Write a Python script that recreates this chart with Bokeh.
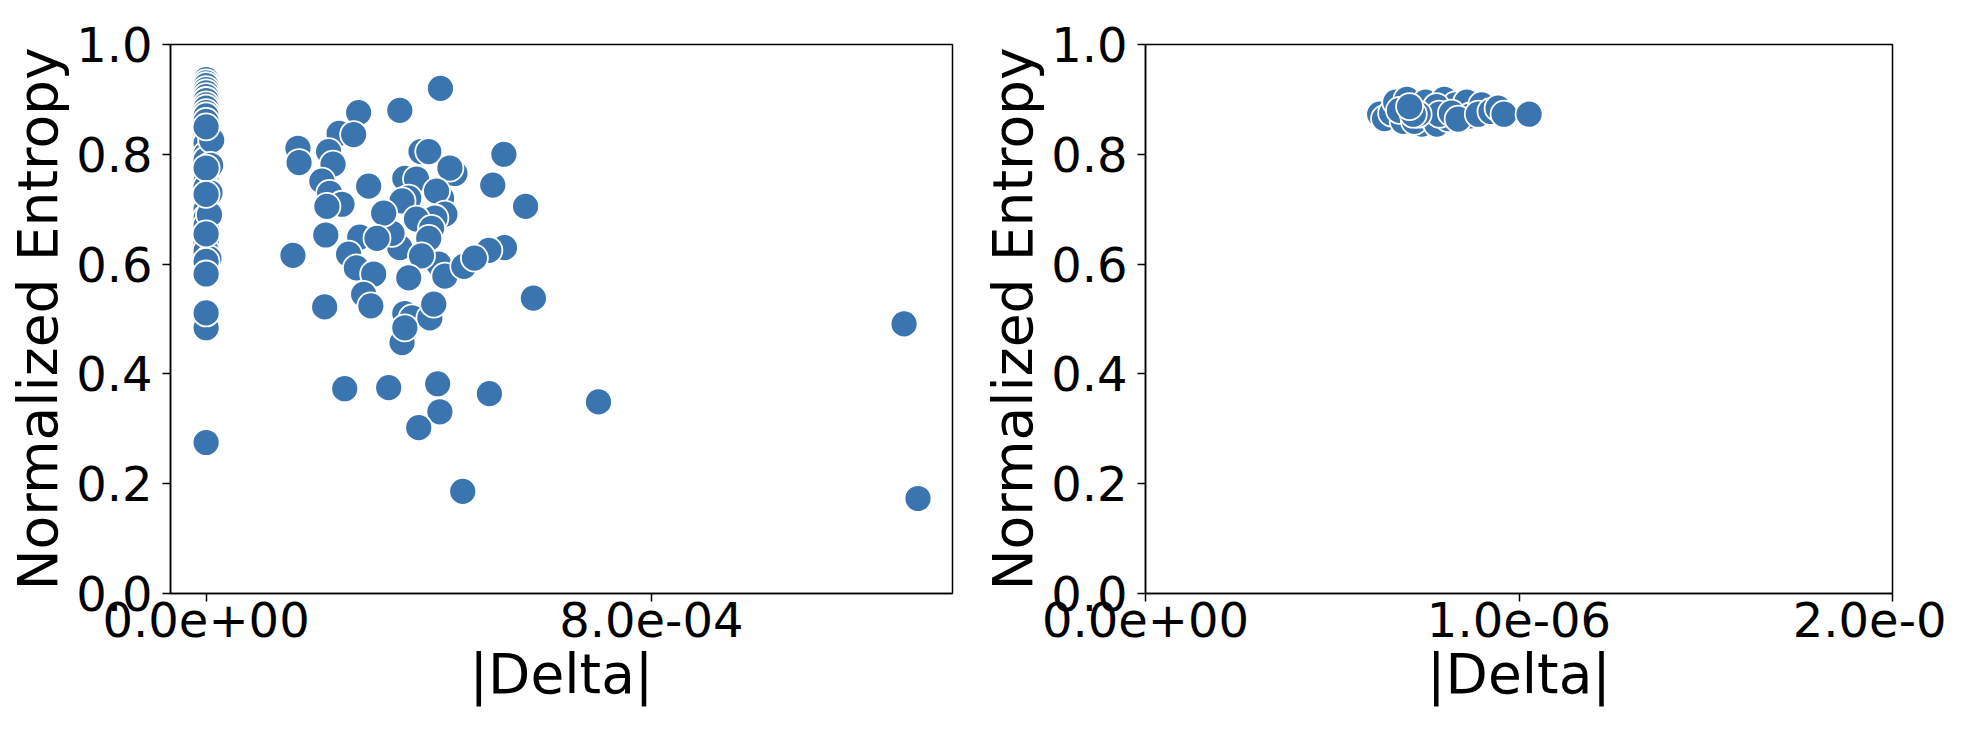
from bokeh.plotting import figure
from bokeh.layouts import row
from bokeh.models import Range1d, FixedTicker, PrintfTickFormatter
from bokeh.embed import file_html
from bokeh.resources import INLINE

# ---- data: left panel (|Delta| vs Normalized Entropy) ----
zero_x = [0, 0, 0, 0, 0, 0, 0, 0, 0, 0, 0, 0, 0, 0, 0, 0, 0, 0, 0, 0,
          0, 0, 0, 0, 0, 1.0e-5, 8e-6, 7e-6, 6e-6, 5e-6,
          0, 0, 0, 0, 0, 0, 0, 0, 0]
zero_y = [0.936, 0.930, 0.925, 0.918, 0.912, 0.905, 0.898, 0.890, 0.884, 0.876,
          0.870, 0.860, 0.840, 0.820, 0.800, 0.790, 0.760, 0.750, 0.740, 0.710,
          0.700, 0.684, 0.670, 0.640, 0.624, 0.826, 0.780, 0.730, 0.690, 0.610,
          0.605, 0.484, 0.275, 0.850, 0.775, 0.727, 0.655, 0.582, 0.511]

main_x = [4.21e-4, 2.74e-4, 3.48e-4, 2.39e-4, 2.65e-4, 1.65e-4, 1.67e-4, 2.20e-4, 2.28e-4, 3.86e-4,
          4.00e-4, 4.47e-4, 4.38e-4, 5.35e-4, 5.15e-4, 5.74e-4, 2.08e-4, 2.22e-4, 2.44e-4, 2.17e-4,
          2.92e-4, 3.57e-4, 3.78e-4, 3.64e-4, 4.23e-4, 4.14e-4, 3.52e-4, 4.29e-4, 4.11e-4, 3.78e-4,
          4.05e-4, 4.00e-4, 3.48e-4, 3.34e-4, 3.19e-4, 2.15e-4, 2.76e-4, 3.07e-4, 2.56e-4, 2.70e-4,
          3.01e-4, 2.83e-4, 2.96e-4, 2.13e-4, 1.56e-4, 4.18e-4, 3.87e-4, 3.64e-4, 4.29e-4, 4.63e-4,
          5.36e-4, 5.08e-4, 4.82e-4, 5.88e-4, 3.52e-4, 3.57e-4, 3.70e-4, 4.02e-4, 3.57e-4, 4.09e-4,
          2.49e-4, 3.28e-4, 4.16e-4, 4.20e-4, 3.82e-4, 5.09e-4, 4.61e-4, 7.05e-4, 1.254e-3, 1.279e-3]
main_y = [0.920, 0.876, 0.880, 0.838, 0.836, 0.811, 0.785, 0.805, 0.782, 0.805,
          0.805, 0.765, 0.775, 0.800, 0.744, 0.705, 0.751, 0.729, 0.709, 0.705,
          0.742, 0.756, 0.755, 0.720, 0.720, 0.733, 0.715, 0.691, 0.684, 0.682,
          0.665, 0.647, 0.630, 0.656, 0.693, 0.653, 0.649, 0.647, 0.618, 0.593,
          0.582, 0.545, 0.524, 0.522, 0.616, 0.600, 0.615, 0.575, 0.578, 0.596,
          0.630, 0.625, 0.611, 0.538, 0.457, 0.510, 0.502, 0.502, 0.484, 0.527,
          0.373, 0.375, 0.382, 0.331, 0.302, 0.364, 0.186, 0.349, 0.491, 0.173]

# ---- data: right panel ----
right_x = [0.627e-6, 0.640e-6, 0.659e-6, 0.670e-6, 0.690e-6, 0.700e-6, 0.680e-6, 0.720e-6, 0.740e-6, 0.750e-6,
           0.720e-6, 0.760e-6, 0.780e-6, 0.800e-6, 0.810e-6, 0.830e-6, 0.850e-6, 0.860e-6, 0.870e-6, 0.900e-6,
           0.779e-6, 0.787e-6, 0.819e-6, 0.837e-6, 0.891e-6, 0.925e-6, 0.944e-6, 0.960e-6, 0.730e-6, 0.717e-6,
           0.707e-6, 1.027e-6]
right_y = [0.873, 0.865, 0.875, 0.895, 0.860, 0.900, 0.880, 0.885, 0.855, 0.895,
           0.860, 0.870, 0.855, 0.900, 0.865, 0.890, 0.880, 0.895, 0.870, 0.890,
           0.887, 0.873, 0.875, 0.864, 0.873, 0.878, 0.884, 0.873, 0.873, 0.873,
           0.887, 0.873]

left_xticks = [0.0, 8e-4]
left_xtick_labels = ["0.0e+00", "8.0e-04"]
right_xticks = [0.0, 1e-6, 2e-6]
# last label is cut off at the figure edge in the reference
right_xtick_labels = ["0.0e+00", "1.0e-06", "2.0e-0"]
yticks = [0.0, 0.2, 0.4, 0.6, 0.8, 1.0]

COLOR = "#3b75af"
FONT = "DejaVu Sans"


def style(p, xticks, xlabels):
    p.xgrid.visible = False
    p.ygrid.visible = False
    p.outline_line_color = "black"
    p.outline_line_width = 1.5
    p.outline_line_alpha = 1.0
    p.background_fill_color = "white"
    p.border_fill_color = "white"
    p.xaxis.ticker = FixedTicker(ticks=xticks)
    p.xaxis.major_label_overrides = {t: l for t, l in zip(xticks, xlabels)}
    p.yaxis.ticker = FixedTicker(ticks=yticks)
    p.yaxis.formatter = PrintfTickFormatter(format="%.1f")
    for ax in (p.xaxis[0], p.yaxis[0]):
        ax.axis_line_color = "black"
        ax.axis_line_width = 1.5
        ax.major_tick_line_color = "black"
        ax.major_tick_line_width = 1.5
        ax.major_tick_in = 0
        ax.major_tick_out = 8
        ax.minor_tick_line_color = None
        ax.major_label_text_font = FONT
        ax.major_label_text_font_size = "48px"
        ax.major_label_text_color = "black"
        ax.axis_label_text_font = FONT
        ax.axis_label_text_font_size = "55px"
        ax.axis_label_text_font_style = "normal"
        ax.axis_label_text_color = "black"
    p.xaxis.major_label_standoff = 0
    p.yaxis.major_label_standoff = 10
    p.xaxis.axis_label_standoff = 2
    p.yaxis.axis_label_standoff = 3


p1 = figure(width=978, height=728, output_backend="svg", toolbar_location=None,
            x_range=Range1d(-6.4e-5, 1.341e-3), y_range=Range1d(0, 1),
            min_border_left=170, min_border_right=26, min_border_top=44, min_border_bottom=135,
            x_axis_label="|Delta|", y_axis_label="Normalized Entropy")
style(p1, left_xticks, left_xtick_labels)
p1.scatter(zero_x, zero_y, size=27, fill_color=COLOR, line_color="white", line_width=1.8)
p1.scatter(main_x, main_y, size=27, fill_color=COLOR, line_color="white", line_width=1.8)

p2 = figure(width=968, height=728, output_backend="svg", toolbar_location=None,
            x_range=Range1d(0, 2e-6), y_range=Range1d(0, 1),
            min_border_left=165, min_border_right=54, min_border_top=44, min_border_bottom=135,
            x_axis_label="|Delta|", y_axis_label="Normalized Entropy")
style(p2, right_xticks, right_xtick_labels)
p2.scatter(right_x, right_y, size=27, fill_color=COLOR, line_color="white", line_width=1.8)

layout = row(p1, p2)
open("out.html", "w").write(file_html(layout, INLINE))
